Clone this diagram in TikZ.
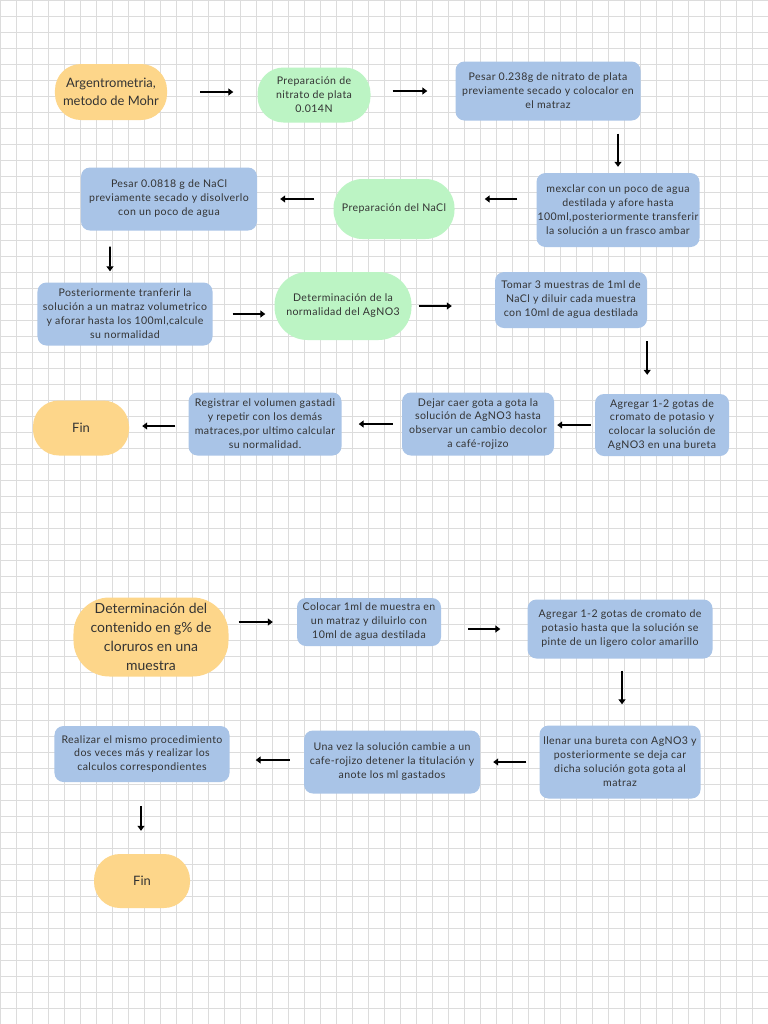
\documentclass[tikz,border=0pt]{standalone}
\usepackage{fontspec}
\setmainfont{Lato}
\newfontfamily\cajafont[LetterSpace=4]{Lato}
\usetikzlibrary{arrows.meta, positioning}
\definecolor{Paso}    {HTML}{A9C4E7}
\definecolor{Inicio}  {HTML}{FDD68A}
\definecolor{Prep}    {HTML}{BCF4C4}
\definecolor{Rejilla} {HTML}{DCDCDC}
\definecolor{Texto}   {HTML}{333333}

\begin{document}
\begin{tikzpicture}[x=1bp, y=-1bp,
  caja/.style={align=center, inner sep=0pt, text=Texto, font=\cajafont\fontsize{10.6}{14}\selectfont},
  paso/.style={caja, fill=Paso, rounded corners=9bp},
  prep/.style={caja, fill=Prep, rounded corners=26bp},
  inicio/.style={caja, fill=Inicio, rounded corners=26bp, font=\rmfamily\fontsize{13}{18}\selectfont},
  flecha/.style={-{Triangle[length=5bp, width=7bp]}, line width=1.8bp, black},
  rejilla/.style={Rejilla, line width=0.6bp}]
  \useasboundingbox (0,0) rectangle (768,1024);
  \fill[white] (0,0) rectangle (768,1024);
  % fondo cuadriculado
  \foreach \gx in {0,16,...,768} \draw[rejilla] (\gx,0) -- (\gx,1024);
  \foreach \gy in {0,16,...,1024} \draw[rejilla] (0,\gy) -- (768,\gy);

  % normalidad del AgNO3
  \node[inicio, minimum width=112bp, minimum height=56bp] (n1) at (111,92) {Argentrometria,\\ metodo de Mohr};
  \node[prep, minimum width=113bp, minimum height=55bp] (n2) at (314,95) {Preparación de\\ nitrato de plata\\ 0.014N};
  \node[paso, minimum width=185bp, minimum height=59bp] (n3) at (548,91) {Pesar 0.238g de nitrato de plata\\ previamente secado y colocalor en\\ el matraz};
  \node[paso, minimum width=163bp, minimum height=74bp] (n4) at (618,210) {mexclar con un poco de agua\\ destilada y afore hasta\\ 100ml,posteriormente transferir\\ la solución a un frasco ambar};
  \node[prep, minimum width=121bp, minimum height=60bp, rounded corners=29bp] (n5) at (394,209) {Preparación del NaCl};
  \node[paso, minimum width=176bp, minimum height=63bp] (n6) at (169,199) {Pesar 0.0818 g de NaCl\\ previamente secado y disolverlo\\ con un poco de agua};
  \node[paso, minimum width=175bp, minimum height=63bp] (n7) at (125,314) {Posteriormente tranferir la\\ solución a un matraz volumetrico\\ y aforar hasta los 100ml,calcule\\ su normalidad};
  \node[prep, minimum width=137bp, minimum height=68bp, rounded corners=33bp] (n8) at (343,306) {Determinación de la\\ normalidad del AgNO3};
  \node[paso, minimum width=152bp, minimum height=56bp] (n9) at (571,300) {Tomar 3 muestras de 1ml de\\ NaCl y diluir cada muestra\\ con 10ml de agua destilada};
  \node[paso, minimum width=134bp, minimum height=62bp] (n10) at (662,425) {Agregar 1-2 gotas de\\ cromato de potasio y\\ colocar la solución de\\ AgNO3 en una bureta};
  \node[paso, minimum width=152bp, minimum height=63bp] (n11) at (478,424) {Dejar caer gota a gota la\\ solución de AgNO3 hasta\\ observar un cambio decolor\\ a café-rojizo};
  \node[paso, minimum width=153bp, minimum height=63bp] (n12) at (265,424) {Registrar el volumen gastadi\\ y repetir con los demás\\ matraces,por ultimo calcular\\ su normalidad.};
  \node[inicio, minimum width=96bp, minimum height=55bp] (n13) at (81,428) {Fin};

  \draw[flecha, shorten <=33bp, shorten >=24bp] (n1.east) -- (n1.east -| n2.west);
  \draw[flecha, shorten <=22bp, shorten >=28bp] (n2.east |- n3.west) -- (n3.west);
  \draw[flecha, shorten <=13bp, shorten >=6bp] (n3.south -| n4.north) -- (n4.north);
  \draw[flecha, shorten <=19bp, shorten >=30bp] ([yshift=11bp]n4.west) -- ([yshift=11bp]n4.west -| n5.east);
  \draw[flecha, shorten <=19bp, shorten >=23bp] (n5.west |- n6.east) -- (n6.east);
  \draw[flecha, shorten <=16bp, shorten >=11bp] ([xshift=-59bp]n6.south) -- ([xshift=-15bp]n7.north);
  \draw[flecha, shorten <=20bp, shorten >=9bp] (n7.east) -- (n7.east -| n8.west);
  \draw[flecha, shorten <=7bp, shorten >=43bp] (n8.east) -- (n8.east -| n9.west);
  \draw[flecha, shorten <=13bp, shorten >=19bp] (n9.south east) -- (n9.south east |- n10.north);
  \draw[flecha, shorten <=4bp, shorten >=3bp] (n10.west) -- (n10.west -| n11.east);
  \draw[flecha, shorten <=9bp, shorten >=17bp] (n11.west) -- (n11.west -| n12.east);
  \draw[flecha, shorten <=13bp, shorten >=13bp] ([yshift=-2bp]n12.west) -- ([yshift=-2bp]n12.west -| n13.east);

  % cloruros en una muestra
  \node[inicio, minimum width=155bp, minimum height=79bp, rounded corners=36bp, font=\rmfamily\fontsize{14}{19}\selectfont] (m1) at (151,637) {Determinación del\\ contenido en g\% de\\ cloruros en una\\ muestra};
  \node[paso, minimum width=144bp, minimum height=48bp] (m2) at (369,622) {Colocar 1ml de muestra en\\ un matraz y diluirlo con\\ 10ml de agua destilada};
  \node[paso, minimum width=185bp, minimum height=59bp] (m3) at (620,629) {Agregar 1-2 gotas de cromato de\\ potasio hasta que la solución se\\ pinte de un ligero color amarillo};
  \node[paso, minimum width=161bp, minimum height=73bp] (m4) at (620,762) {llenar una bureta con AgNO3 y\\ posteriormente se deja car\\ dicha solución gota gota al\\ matraz};
  \node[paso, minimum width=176bp, minimum height=63bp] (m5) at (392,762) {Una vez la solución cambie a un\\ cafe-rojizo detener la titulación y\\ anote los ml gastados};
  \node[paso, minimum width=175bp, minimum height=56bp] (m6) at (142,754) {Realizar el mismo procedimiento\\ dos veces más y realizar los\\ calculos correspondientes};
  \node[inicio, minimum width=96bp, minimum height=54bp] (m7) at (142,881) {Fin};

  \draw[flecha, shorten <=10bp, shorten >=24bp] (m1.east |- m2.west) -- (m2.west);
  \draw[flecha, shorten <=27bp, shorten >=27bp] (m2.east |- m3.west) -- (m3.west);
  \draw[flecha, shorten <=12bp, shorten >=21bp] ([xshift=2bp]m3.south) -- ([xshift=2bp]m3.south |- m4.north);
  \draw[flecha, shorten <=13bp, shorten >=13bp] (m4.west) -- (m4.west -| m5.east);
  \draw[flecha, shorten <=14bp, shorten >=26bp] ([yshift=2bp]m5.west) -- ([yshift=2bp]m5.west -| m6.east);
  \draw[flecha, shorten <=24bp, shorten >=23bp] ([xshift=-1bp]m6.south) -- ([xshift=-1bp]m6.south |- m7.north);
\end{tikzpicture}
\end{document}
